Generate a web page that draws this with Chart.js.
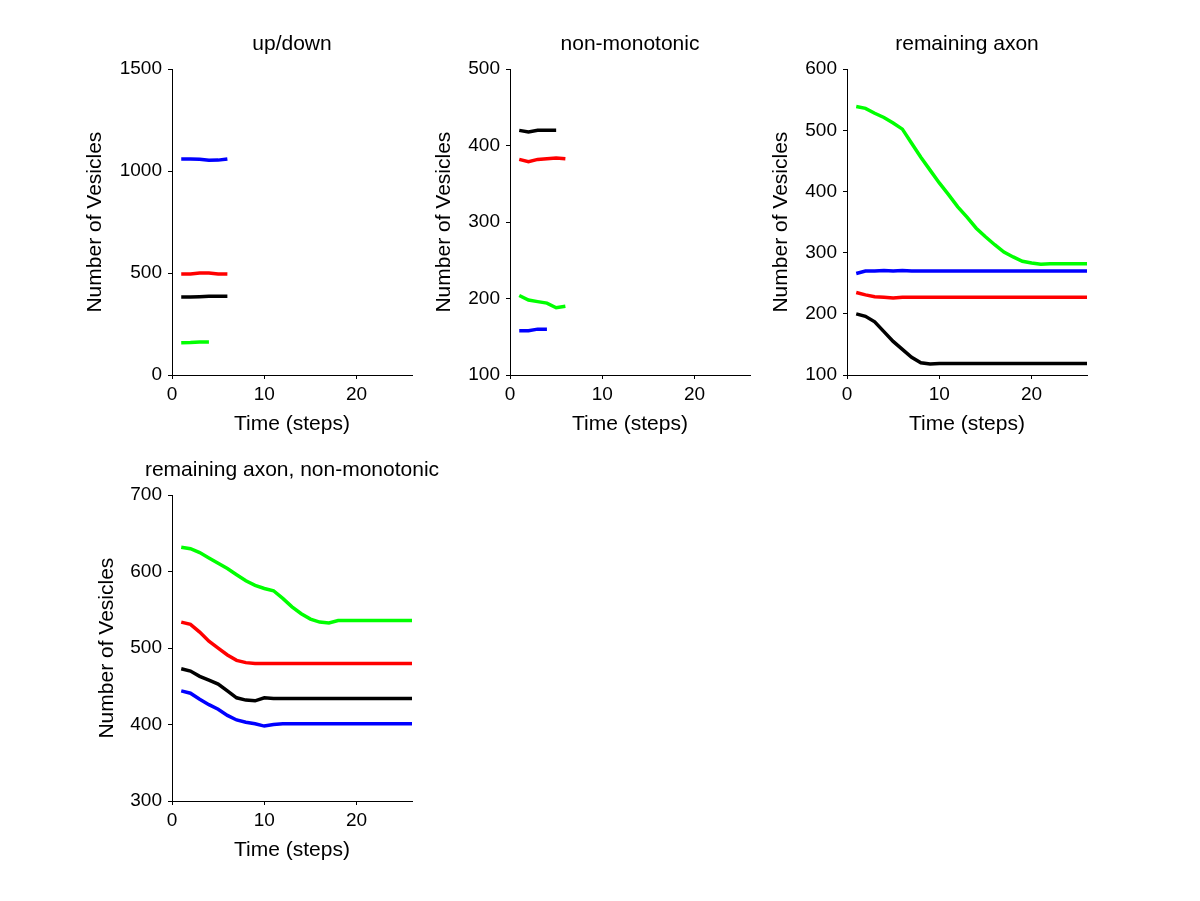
<!DOCTYPE html>
<html>
<head>
<meta charset="utf-8">
<script src="https://cdn.jsdelivr.net/npm/chart.js@4.4.1/dist/chart.umd.min.js"></script>
<style>
  body { margin: 0; background: #fff; }
  #page { position: relative; width: 1200px; height: 901px; background: #fff; }
  canvas { position: absolute; }
</style>
</head>
<body>
<div id="page">
  <canvas id="plot-updown"></canvas>
  <canvas id="plot-nonmono"></canvas>
  <canvas id="plot-remaining"></canvas>
  <canvas id="plot-remaining-nonmono"></canvas>
</div>
<script>
// tick labels
const xTicks = [0, 10, 20];
const yTicksUpDown = [0, 500, 1000, 1500];
const yTicksNonMono = [100, 200, 300, 400, 500];
const yTicksRemaining = [100, 200, 300, 400, 500, 600];
const yTicksRemainingNonMono = [300, 400, 500, 600, 700];

// up/down (time steps start at 1)
const upDownBlue  = [1060, 1060, 1058, 1053, 1054, 1060];
const upDownRed   = [496, 496, 500, 500, 496, 495];
const upDownBlack = [382, 382, 384, 386, 386, 386];
const upDownGreen = [158, 159, 162, 162];

// non-monotonic
const nonMonoBlack = [420, 418, 420, 420, 420];
const nonMonoRed   = [382, 379, 382, 383, 384, 383];
const nonMonoGreen = [204, 198, 196, 194, 188, 190];
const nonMonoBlue  = [158, 158, 160, 160];

// remaining axon
const remainingGreen = [539, 536, 528, 521, 512, 502, 479, 456, 435, 414, 395, 375, 358, 340, 326, 313, 301, 293, 286, 283, 281, 282, 282, 282, 282, 282];
const remainingBlue  = [266, 270, 270, 271, 270, 271, 270, 270, 270, 270, 270, 270, 270, 270, 270, 270, 270, 270, 270, 270, 270, 270, 270, 270, 270, 270];
const remainingRed   = [235, 231, 228, 227, 226, 227, 227, 227, 227, 227, 227, 227, 227, 227, 227, 227, 227, 227, 227, 227, 227, 227, 227, 227, 227, 227];
const remainingBlack = [200, 196, 187, 171, 155, 142, 129, 120, 118, 119, 119, 119, 119, 119, 119, 119, 119, 119, 119, 119, 119, 119, 119, 119, 119, 119];

// remaining axon, non-monotonic
const remNonMonoGreen = [632, 630, 625, 618, 611, 604, 596, 588, 582, 578, 575, 565, 554, 545, 538, 534, 533, 536, 536, 536, 536, 536, 536, 536, 536, 536];
const remNonMonoRed   = [534, 531, 521, 509, 500, 491, 484, 481, 480, 480, 480, 480, 480, 480, 480, 480, 480, 480, 480, 480, 480, 480, 480, 480, 480, 480];
const remNonMonoBlack = [473, 470, 463, 458, 453, 444, 435, 432, 431, 435, 434, 434, 434, 434, 434, 434, 434, 434, 434, 434, 434, 434, 434, 434, 434, 434];
const remNonMonoBlue  = [444, 441, 433, 426, 420, 412, 406, 403, 401, 398, 400, 401, 401, 401, 401, 401, 401, 401, 401, 401, 401, 401, 401, 401, 401, 401];

const FONT = "'Liberation Sans', Arial, Helvetica, sans-serif";

function toPoints(values) {
    return values.map((v, i) => ({ x: i + 1, y: v }));
}

function line(values, color) {
    return {
        data: toPoints(values),
        borderColor: color,
        borderWidth: 3.5,
        pointRadius: 0,
        tension: 0,
        fill: false
    };
}

// left/top = position of the axes box on the page
function makePlot(id, title, left, top, yMin, yMax, yTicks, yAxisWidth, datasets) {
    const plotW = 240, plotH = 306;
    const titleH = 48, xAxisH = 62;
    const canvas = document.getElementById(id);
    // same empty width on the right as the y axis takes on the left, so the title centres over the axes
    canvas.width = yAxisWidth + plotW + yAxisWidth;
    canvas.height = titleH + plotH + xAxisH;
    canvas.style.left = (left - yAxisWidth) + 'px';
    canvas.style.top = (top - titleH) + 'px';
    canvas.style.width = canvas.width + 'px';
    canvas.style.height = canvas.height + 'px';

    new Chart(canvas.getContext('2d'), {
        type: 'line',
        data: { datasets: datasets },
        options: {
            responsive: false,
            animation: false,
            layout: { padding: 0 },
            plugins: {
                legend: { display: false },
                tooltip: { enabled: false },
                title: {
                    display: true,
                    text: title,
                    color: '#000',
                    font: { family: FONT, size: 21, weight: 'normal' },
                    padding: { top: 11, bottom: 12 }
                }
            },
            scales: {
                x: {
                    type: 'linear',
                    min: 0,
                    max: 26,
                    afterBuildTicks: (scale) => { scale.ticks = xTicks.map(v => ({ value: v })); },
                    afterFit: (scale) => { scale.height = xAxisH; },
                    grid: { display: true, drawOnChartArea: false, drawTicks: true, tickLength: 4, color: '#000' },
                    border: { display: true, color: '#000', width: 1 },
                    ticks: { color: '#000', padding: 4, maxRotation: 0, font: { family: FONT, size: 19 },
                             callback: (v) => String(v) },
                    title: {
                        display: true,
                        text: 'Time (steps)',
                        color: '#000',
                        padding: 0,
                        font: { family: FONT, size: 21 }
                    }
                },
                y: {
                    type: 'linear',
                    min: yMin,
                    max: yMax,
                    afterBuildTicks: (scale) => { scale.ticks = yTicks.map(v => ({ value: v })); },
                    afterFit: (scale) => { scale.width = yAxisWidth; },
                    grid: { display: true, drawOnChartArea: false, drawTicks: true, tickLength: 4, color: '#000' },
                    border: { display: true, color: '#000', width: 1 },
                    ticks: { color: '#000', padding: 6, font: { family: FONT, size: 19 },
                             callback: (v) => String(v) },
                    title: {
                        display: true,
                        text: 'Number of Vesicles',
                        color: '#000',
                        padding: 0,
                        font: { family: FONT, size: 21 }
                    }
                },
                // empty spacer on the right
                spacer: {
                    type: 'linear',
                    position: 'right',
                    display: true,
                    afterFit: (scale) => { scale.width = yAxisWidth; },
                    grid: { display: false },
                    border: { display: false },
                    ticks: { display: false }
                }
            }
        }
    });
}

makePlot('plot-updown', 'up/down', 172, 69, 0, 1500, yTicksUpDown, 89, [
    line(upDownBlue, '#0000ff'),
    line(upDownRed, '#ff0000'),
    line(upDownBlack, '#000000'),
    line(upDownGreen, '#00ff00')
]);

makePlot('plot-nonmono', 'non-monotonic', 510, 69, 100, 500, yTicksNonMono, 78, [
    line(nonMonoBlack, '#000000'),
    line(nonMonoRed, '#ff0000'),
    line(nonMonoGreen, '#00ff00'),
    line(nonMonoBlue, '#0000ff')
]);

makePlot('plot-remaining', 'remaining axon', 847, 69, 100, 600, yTicksRemaining, 78, [
    line(remainingGreen, '#00ff00'),
    line(remainingBlue, '#0000ff'),
    line(remainingRed, '#ff0000'),
    line(remainingBlack, '#000000')
]);

makePlot('plot-remaining-nonmono', 'remaining axon, non-monotonic', 172, 495, 300, 700, yTicksRemainingNonMono, 77, [
    line(remNonMonoGreen, '#00ff00'),
    line(remNonMonoRed, '#ff0000'),
    line(remNonMonoBlack, '#000000'),
    line(remNonMonoBlue, '#0000ff')
]);
</script>
</body>
</html>
